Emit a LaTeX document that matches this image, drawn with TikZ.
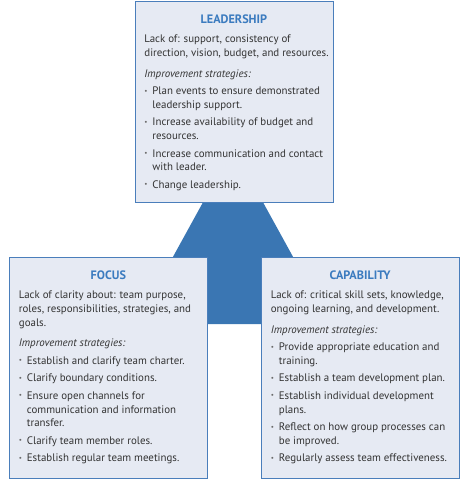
\documentclass[tikz,border=0pt]{standalone}
\usepackage{fontspec}
\setmainfont{PT Sans}
\usepackage{xcolor}
\definecolor{boxfill}{HTML}{E6EAF3}
\definecolor{boxline}{HTML}{4A7EBB}
\definecolor{ttlblue}{HTML}{3B7BBF}
\definecolor{trapblue}{HTML}{3A76B3}
\definecolor{txtgray}{HTML}{333333}
\definecolor{dotgray}{HTML}{6A6A6A}

\newcommand{\nl}{\hfil\break}
\newcommand{\boxtitle}[1]{{\centering\rule{0pt}{22.5pt}\color{ttlblue}\fontsize{12.2pt}{13.7pt}\selectfont\bfseries #1\par}\vspace{5.3pt}}
\newcommand{\strat}{\par\vspace{6.8pt}\noindent\textit{Improvement strategies:}}
\newcommand{\itm}[1]{\par\vspace{3.8pt}\hangindent=8pt\hangafter=1\noindent\makebox[8pt][l]{\color{dotgray}\raisebox{0.25ex}{\scriptsize\textbullet}}#1}
\newcommand{\boxbody}[3]{\begin{minipage}[t][#2pt][t]{#1pt}\fontsize{10.9pt}{13.7pt}\selectfont\raggedright\leftskip=9.5pt\color{txtgray}#3\end{minipage}}

\begin{document}
\begin{tikzpicture}[x=1pt,y=-1pt,box/.style={anchor=north west,draw=boxline,line width=0.8pt,fill=boxfill,inner sep=0pt}]
\useasboundingbox (0,0) rectangle (468,482);
\fill[trapblue] (207,195) -- (259,195) -- (330,324) -- (136,324) -- cycle;
\node[box] (lead) at (134.5,1) {\boxbody{198}{200.5}{\boxtitle{LEADERSHIP}
    Lack of: support, consistency of\nl direction, vision, budget, and resources.
    \strat
    \itm{Plan events to ensure demonstrated\nl leadership support.}
    \itm{Increase availability of budget and\nl resources.}
    \itm{Increase communication and contact\nl with leader.}
    \itm{Change leadership.}}};
\node[box] (focus) at (9,257) {\boxbody{198}{221}{\boxtitle{FOCUS}
    Lack of clarity about: team purpose,\nl roles, responsibilities, strategies, and\nl goals.
    \strat
    \itm{Establish and clarify team charter.}
    \itm{Clarify boundary conditions.}
    \itm{Ensure open channels for\nl communication and information\nl transfer.}
    \itm{Clarify team member roles.}
    \itm{Establish regular team meetings.}}};
\node[box] (capab) at (261,257) {\boxbody{197.5}{221}{\boxtitle{CAPABILITY}
    Lack of: critical skill sets, knowledge,\nl ongoing learning, and development.
    \strat
    \itm{Provide appropriate education and\nl training.}
    \itm{Establish a team development plan.}
    \itm{Establish individual development\nl plans.}
    \itm{Reflect on how group processes can\nl be improved.}
    \itm{Regularly assess team effectiveness.}}};
\end{tikzpicture}
\end{document}
